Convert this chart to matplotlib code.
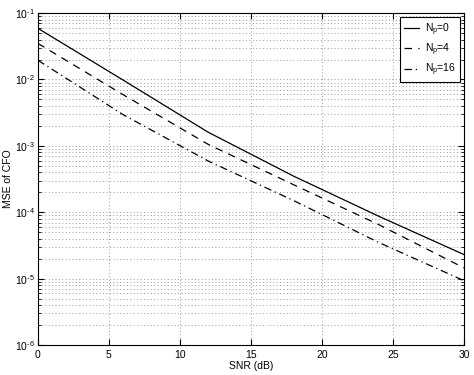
import numpy as np
import matplotlib
matplotlib.use('Agg')
import matplotlib.pyplot as plt
from matplotlib.ticker import FuncFormatter

plt.rcParams['font.family'] = ['Liberation Sans', 'DejaVu Sans']
plt.rcParams['mathtext.default'] = 'regular'

# data
snr = [0, 6, 12, 18, 24, 30]
mse_np0 = [5.9e-2, 9.8e-3, 1.6e-3, 3.5e-4, 8.7e-5, 2.3e-5]
mse_np4 = [3.5e-2, 5.9e-3, 1.05e-3, 2.6e-4, 6.5e-5, 1.45e-5]
mse_np16 = [1.95e-2, 2.95e-3, 5.9e-4, 1.5e-4, 3.5e-5, 9.3e-6]
labels = ['N$_p$=0', 'N$_p$=4', 'N$_p$=16']

fig = plt.figure(figsize=(4.74, 3.75), dpi=100)
ax = fig.add_axes([0.080, 0.080, 0.899, 0.885])

ax.semilogy(snr, mse_np0, 'k-', lw=0.9, label=labels[0])
ax.semilogy(snr, mse_np4, 'k--', lw=0.9, dashes=(6, 5), label=labels[1])
ax.semilogy(snr, mse_np16, 'k-.', lw=0.9, dashes=(6, 3, 1, 3), label=labels[2])

ax.set_xlim(0, 30)
ax.set_ylim(1e-6, 1e-1)
ax.set_xticks([0, 5, 10, 15, 20, 25, 30])

# 10^-n labels with a short hyphen, like the original
def exp_fmt(v, pos):
    n = int(round(np.log10(v)))
    return '$10^{\u2010%d}$' % (-n)
ax.yaxis.set_major_formatter(FuncFormatter(exp_fmt))

ax.grid(True, which='major', ls=(0, (1, 2.5)), color='#999999', lw=0.7)
ax.grid(True, which='minor', axis='y', ls=(0, (1, 2.5)), color='#999999', lw=0.7)
ax.tick_params(which='both', direction='in', top=True, right=True, labelsize=7.5)
ax.tick_params(which='major', length=4)
ax.tick_params(which='minor', length=2)
ax.tick_params(axis='y', pad=2.5)
for s in ax.spines.values():
    s.set_linewidth(0.8)

ax.set_xlabel('SNR (dB)', fontsize=7.5, labelpad=1)
ax.set_ylabel('MSE of CFO', fontsize=7.5)
ax.yaxis.set_label_coords(-0.059, 0.5)

leg = ax.legend(loc='upper right', fontsize=7.5, fancybox=False, edgecolor='black',
                framealpha=1, handlelength=1.5, handletextpad=0.5,
                borderpad=0.4, labelspacing=0.35, borderaxespad=0.4)
leg.get_frame().set_linewidth(0.8)

plt.savefig('out.png', dpi=100)
